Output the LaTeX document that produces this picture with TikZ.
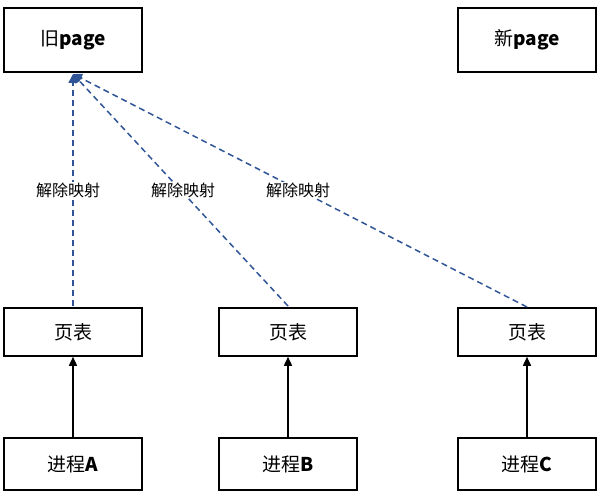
\documentclass[tikz,border=0pt]{standalone}
\usepackage{fontspec}
\setmainfont{Liberation Sans}
\newfontfamily\cjk{Noto Sans CJK SC}
\usetikzlibrary{arrows.meta}
\definecolor{dblue}{HTML}{2F5597}
\begin{document}
\begin{tikzpicture}[x=1pt,y=-1pt,
  box/.style={draw=black,line width=1.6pt,minimum width=138pt,inner sep=0pt,font=\cjk\fontsize{19}{22}\selectfont},
  unmap/.style={draw=dblue,dashed,line width=1.5pt,dash pattern=on 6pt off 4pt,-{Triangle[length=9pt,width=9pt]}},
  up/.style={draw=black,line width=1.6pt,-{Triangle[length=9pt,width=8pt]}},
  lbl/.style={font=\cjk\fontsize{16}{18}\selectfont,fill=white,inner sep=1pt}]
\useasboundingbox (0,0) rectangle (600,495);
\node[box,minimum height=64pt] (old) at (73,40) {旧\textbf{page}};
\node[box,minimum height=64pt] (new) at (527,40) {新\textbf{page}};
\node[box,minimum height=48pt] (pa) at (73,332) {页表};
\node[box,minimum height=48pt] (pb) at (288,332) {页表};
\node[box,minimum height=48pt] (pc) at (527,332) {页表};
\node[box,minimum height=52pt] (ja) at (73,464) {进程\textbf{A}};
\node[box,minimum height=52pt] (jb) at (288,464) {进程\textbf{B}};
\node[box,minimum height=52pt] (jc) at (527,464) {进程\textbf{C}};
\coordinate (tgt) at (73,74);
\draw[unmap] (73,306) -- (tgt);
\draw[unmap] (288,306) -- (tgt);
\draw[unmap] (527,307) -- (tgt);
\node[lbl] (l1) at (68,190) {解除映射};
\node[lbl] (l2) at (183,190) {解除映射};
\node[lbl] (l3) at (298,190) {解除映射};
\draw[up] (ja.north) -- (pa.south);
\draw[up] (jb.north) -- (pb.south);
\draw[up] (jc.north) -- (pc.south);
\end{tikzpicture}
\end{document}
